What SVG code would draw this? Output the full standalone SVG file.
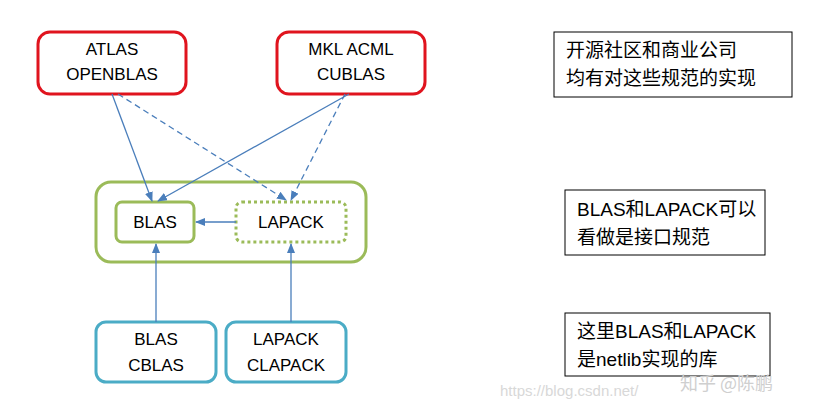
<svg xmlns="http://www.w3.org/2000/svg" width="830" height="414" viewBox="0 0 830 414">
<defs>
<marker id="ah" markerWidth="10" markerHeight="8" refX="9" refY="4" orient="auto" markerUnits="userSpaceOnUse"><path d="M0,0 L10,4 L0,8 Z" fill="#4a7ebb"/></marker>
<style>
.t{font-family:"Liberation Sans","Noto Sans CJK SC",sans-serif;font-size:17px;fill:#000}
.n{font-size:19px}
.c{text-anchor:middle}
.red{fill:#fff;stroke:#e0141e;stroke-width:3}
.grn{fill:#fff;stroke:#9bbb59;stroke-width:3}
.cy{fill:#fff;stroke:#4bacc6;stroke-width:3}
.note{fill:#fff;stroke:#000;stroke-width:1}
.ln{stroke:#4a7ebb;stroke-width:1.3;fill:none;marker-end:url(#ah)}
.d{stroke-dasharray:6,4}
</style>
</defs>
<rect width="830" height="414" fill="#fff"/>
<g id="atlas"><rect class="red" x="38" y="32" width="148" height="62" rx="12"/><text class="t c" x="112" y="55">ATLAS</text><text class="t c" x="112" y="80">OPENBLAS</text></g>
<g id="mkl"><rect class="red" x="277" y="32" width="148" height="62" rx="12"/><text class="t c" x="351" y="55">MKL ACML</text><text class="t c" x="351" y="80">CUBLAS</text></g>
<g id="note1"><rect class="note" x="554" y="32" width="238" height="65"/><text class="t n" x="566" y="57">开源社区和商业公司</text><text class="t n" x="566" y="85">均有对这些规范的实现</text></g>
<g id="iface"><rect class="grn" x="96" y="182" width="270" height="80" rx="15"/></g>
<g id="blas"><rect class="grn" x="116" y="202" width="78" height="40" rx="6"/><text class="t c" x="155" y="228">BLAS</text></g>
<g id="lapack"><rect class="grn" x="236" y="202" width="110" height="40" rx="6" stroke-dasharray="3,3"/><text class="t c" x="291" y="228">LAPACK</text></g>
<g id="note2"><rect class="note" x="565" y="190" width="200" height="65"/><text class="t n" x="577" y="216">BLAS和LAPACK可以</text><text class="t n" x="577" y="244">看做是接口规范</text></g>
<g id="cblas"><rect class="cy" x="96" y="322" width="120" height="60" rx="10"/><text class="t c" x="156" y="345">BLAS</text><text class="t c" x="156" y="371">CBLAS</text></g>
<g id="clapack"><rect class="cy" x="226" y="322" width="120" height="60" rx="10"/><text class="t c" x="286" y="345">LAPACK</text><text class="t c" x="286" y="371">CLAPACK</text></g>
<g id="note3"><rect class="note" x="565" y="313" width="205" height="63"/><text class="t n" x="577" y="338">这里BLAS和LAPACK</text><text class="t n" x="577" y="366">是netlib实现的库</text></g>
<g id="connectors">
<line class="ln" x1="112" y1="94" x2="152" y2="201"/>
<line class="ln d" x1="118" y1="94" x2="286" y2="200"/>
<line class="ln" x1="349" y1="94" x2="158" y2="201"/>
<line class="ln d" x1="345" y1="94" x2="291" y2="200"/>
<line class="ln" x1="236" y1="222" x2="196" y2="222"/>
<line class="ln" x1="156" y1="322" x2="156" y2="244"/>
<line class="ln" x1="291" y1="322" x2="291" y2="244"/>
</g>
<text x="500" y="396" font-family="Liberation Sans,sans-serif" font-size="15" fill="#d8d8d8">https://blog.csdn.net/</text>
<text x="680" y="390" font-family="Noto Sans CJK SC,sans-serif" font-size="18" fill="#cfcfcf">知乎 @陈鹏</text>
</svg>
